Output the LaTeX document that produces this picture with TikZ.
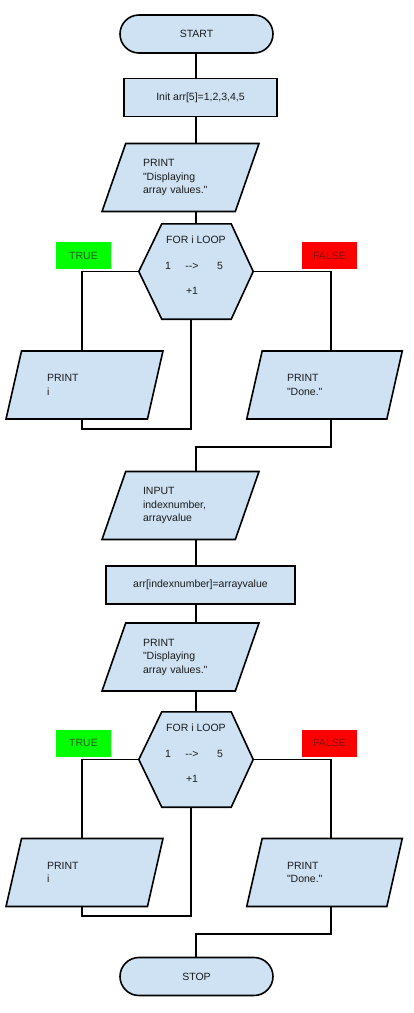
\documentclass[tikz,border=0pt]{standalone}
\usepackage{fontspec}
\newfontfamily\arial{Liberation Sans}
\usetikzlibrary{shapes.geometric,shapes.misc,calc}
\definecolor{boxfill}{HTML}{CFE2F3}
\definecolor{txt}{HTML}{1A1A1A}
\definecolor{truegreen}{HTML}{00FF00}
\definecolor{falsered}{HTML}{FF0000}
\definecolor{truetxt}{HTML}{2B5A1E}
\definecolor{falsetxt}{HTML}{7F1010}
\newcommand\drawhex[1]{\draw[hexshape] ($(#1.north west)+(23,0)$) -- ($(#1.north east)+(-22,0)$) -- (#1.east) -- ($(#1.south east)+(-22,0)$) -- ($(#1.south west)+(23,0)$) -- (#1.west) -- cycle;}
\begin{document}
\begin{tikzpicture}[x=1pt,y=-1pt,
  every node/.style={font=\arial\fontsize{10.5}{13.5}\selectfont, text=txt},
  base/.style={draw=black, fill=boxfill, line width=1.6pt},
  terminal/.style={base, rounded rectangle, minimum width=153pt, minimum height=38pt, inner sep=0pt},
  procbox/.style={base, rectangle, minimum height=38pt, inner sep=0pt},
  iobox/.style={base, trapezium, trapezium left angle=66, trapezium right angle=114, trapezium stretches=true, minimum width=157pt, minimum height=68pt, text width=75pt, align=left, inner sep=0pt},
  hexnode/.style={rectangle, minimum width=114pt, minimum height=95pt, inner sep=0pt},
  hexshape/.style={base, line join=miter},
  flag/.style={minimum width=55pt, minimum height=27pt, inner sep=0pt},
  conn/.style={draw=black, line width=1.6pt}
]
\useasboundingbox[fill=white] (0,0) rectangle (414,1013);
\coordinate (ax) at (196,0);
\coordinate (xl) at (82,0);
\coordinate (xr) at (191,0);
\coordinate (xR) at (331,0);
\coordinate (lp1) at (0,429);
\coordinate (lp2) at (0,916);
\coordinate (j1) at (196,447);
\coordinate (j2) at (196,934);

\node[terminal] (start) at (196.5,34) {START};
\node[procbox, minimum width=153pt] (init) at (200.5,97.5) {Init arr[5]=1,2,3,4,5};
\node[iobox] (p1) at (180.5,177.5) {PRINT\\"Displaying\\array values."};
\node[hexnode] (h1) at (196,271.5) {};
\node[iobox] (pi1) at (84.5,385) {PRINT\\i};
\node[iobox] (dn1) at (324.5,385) {PRINT\\"Done."};
\node[iobox] (inp) at (180.5,505.5) {INPUT\\indexnumber,\\arrayvalue};
\node[procbox, minimum width=189pt] (asg) at (200.5,585) {arr[indexnumber]=arrayvalue};
\node[iobox] (p2) at (180.5,657) {PRINT\\"Displaying\\array values."};
\node[hexnode] (h2) at (196,759.5) {};
\node[iobox] (pi2) at (84.5,872.5) {PRINT\\i};
\node[iobox] (dn2) at (324.5,872.5) {PRINT\\"Done."};
\node[terminal] (stop) at (196.5,976.5) {STOP};

\drawhex{h1}
\drawhex{h2}

\node (h1a) at (196,240) {FOR i LOOP};
\node (h1b) at (168,266) {1};
\node (h1c) at (192,266) {-{}->};
\node (h1d) at (220,266) {5};
\node (h1e) at (192,291) {+1};
\node (h2a) at (196,728) {FOR i LOOP};
\node (h2b) at (168,754) {1};
\node (h2c) at (192,754) {-{}->};
\node (h2d) at (220,754) {5};
\node (h2e) at (192,779) {+1};

\node[flag, fill=truegreen, text=truetxt] (t1) at (83.5,255.5) {TRUE};
\node[flag, fill=falsered, text=falsetxt] (f1) at (329.5,255.5) {FALSE};
\node[flag, fill=truegreen, text=truetxt] (t2) at (83.5,743) {TRUE};
\node[flag, fill=falsered, text=falsetxt] (f2) at (329.5,743) {FALSE};

\draw[conn] (start.south -| ax) -- (init.north -| ax);
\draw[conn] (init.south -| ax) -- (p1.north -| ax);
\draw[conn] (p1.south -| ax) -- (h1.north);
\draw[conn] (h1.west) -| (pi1.north -| xl);
\draw[conn] (pi1.south -| xl) -- (xl |- lp1) -| (h1.south -| xr);
\draw[conn] (h1.east) -| (dn1.north -| xR);
\draw[conn] (dn1.south -| xR) |- (j1) -- (inp.north -| ax);
\draw[conn] (inp.south -| ax) -- (asg.north -| ax);
\draw[conn] (asg.south -| ax) -- (p2.north -| ax);
\draw[conn] (p2.south -| ax) -- (h2.north);
\draw[conn] (h2.west) -| (pi2.north -| xl);
\draw[conn] (pi2.south -| xl) -- (xl |- lp2) -| (h2.south -| xr);
\draw[conn] (h2.east) -| (dn2.north -| xR);
\draw[conn] (dn2.south -| xR) |- (j2) -- (stop.north -| ax);
\end{tikzpicture}
\end{document}
